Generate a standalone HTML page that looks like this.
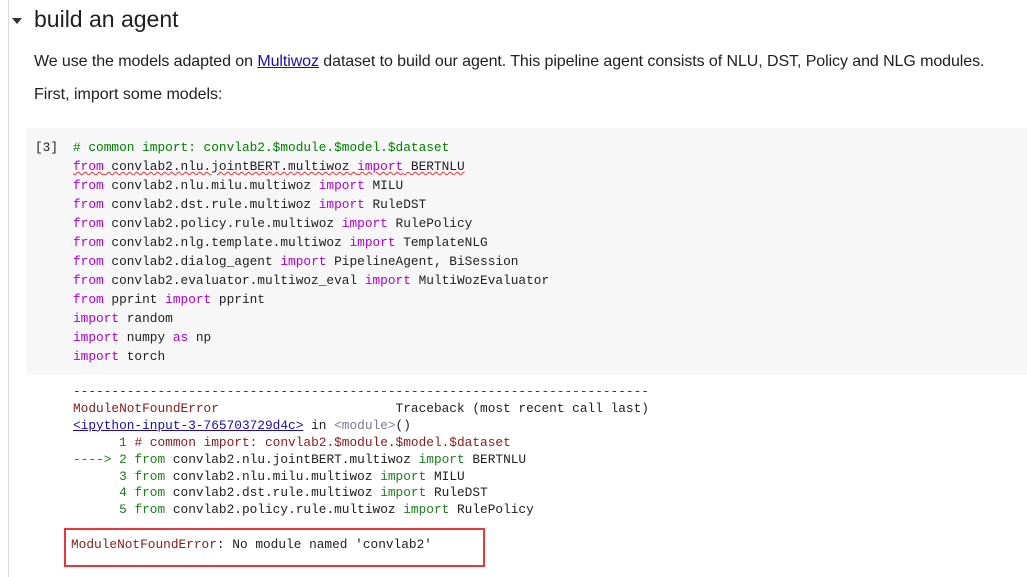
<!DOCTYPE html>
<html><head><meta charset="utf-8"><style>
body{margin:0;width:1027px;height:577px;background:#fff;position:relative;overflow:hidden;font-family:"Liberation Sans",sans-serif;color:#212121}
.vl{position:absolute;left:8px;top:0;width:1px;height:577px;background:#dadada}
.tri{position:absolute;left:12px;top:18px;width:0;height:0;border-left:5px solid transparent;border-right:5px solid transparent;border-top:6px solid #333}
h1{position:absolute;left:34px;top:6px;margin:0;font-weight:normal;font-size:23px;color:#202124}
.p{position:absolute;left:34px;font-size:16px;color:#202124;white-space:nowrap}
a{color:#1a0dab;text-decoration:underline}
.cell{position:absolute;left:26px;top:128px;width:1001px;height:247px;background:#f7f7f7}
.m{position:absolute;font-family:"Liberation Mono",monospace;font-size:12.8px;white-space:pre;line-height:19px}
.k{color:#af00db}.c{color:#008000}.t{color:#202124}
.o{line-height:16.9px;color:#212121}
.r{color:#8b1a1a}.g{color:#1a7f1a}.b{color:#1a0dab;text-decoration:underline}.gr{color:#7a7a9a}
.box{position:absolute;left:64px;top:528px;width:417px;height:35px;border:2px solid #e8383d}
.sq{text-decoration:underline wavy #e33;text-decoration-thickness:1px}
</style></head><body>
<div class="vl"></div><div class="tri"></div>
<h1>build an agent</h1>
<div class="p" style="top:53px;letter-spacing:-0.08px">We use the models adapted on <a>Multiwoz</a> dataset to build our agent. This pipeline agent consists of NLU, DST, Policy and NLG modules.</div>
<div class="p" style="top:86px">First, import some models:</div>
<div class="cell"></div>
<div class="m t" style="left:35px;top:138px">[3]</div>
<div class="m t" style="left:73px;top:138px"><span class="c"># common import: convlab2.$module.$model.$dataset</span>
<span class="sq"><span class="k">from</span> convlab2.nlu.jointBERT.multiwoz <span class="k">import</span> BERTNLU</span>
<span class="k">from</span> convlab2.nlu.milu.multiwoz <span class="k">import</span> MILU
<span class="k">from</span> convlab2.dst.rule.multiwoz <span class="k">import</span> RuleDST
<span class="k">from</span> convlab2.policy.rule.multiwoz <span class="k">import</span> RulePolicy
<span class="k">from</span> convlab2.nlg.template.multiwoz <span class="k">import</span> TemplateNLG
<span class="k">from</span> convlab2.dialog_agent <span class="k">import</span> PipelineAgent, BiSession
<span class="k">from</span> convlab2.evaluator.multiwoz_eval <span class="k">import</span> MultiWozEvaluator
<span class="k">from</span> pprint <span class="k">import</span> pprint
<span class="k">import</span> random
<span class="k">import</span> numpy <span class="k">as</span> np
<span class="k">import</span> torch</div>
<div class="m o" style="left:73px;top:384px"><span class="r">---------------------------------------------------------------------------</span>
<span class="r">ModuleNotFoundError</span>                       Traceback (most recent call last)
<span class="b">&lt;ipython-input-3-765703729d4c&gt;</span> in <span class="gr">&lt;module&gt;</span>()
<span class="g">      1</span> <span class="r"># common import: convlab2.$module.$model.$dataset</span>
<span class="g">----&gt; 2</span> <span class="g">from</span> convlab2.nlu.jointBERT.multiwoz <span class="g">import</span> BERTNLU
<span class="g">      3</span> <span class="g">from</span> convlab2.nlu.milu.multiwoz <span class="g">import</span> MILU
<span class="g">      4</span> <span class="g">from</span> convlab2.dst.rule.multiwoz <span class="g">import</span> RuleDST
<span class="g">      5</span> <span class="g">from</span> convlab2.policy.rule.multiwoz <span class="g">import</span> RulePolicy</div>
<div class="m o" style="left:71px;top:537px"><span class="r">ModuleNotFoundError</span>: No module named 'convlab2'</div>
<div class="box"></div>
</body></html>
